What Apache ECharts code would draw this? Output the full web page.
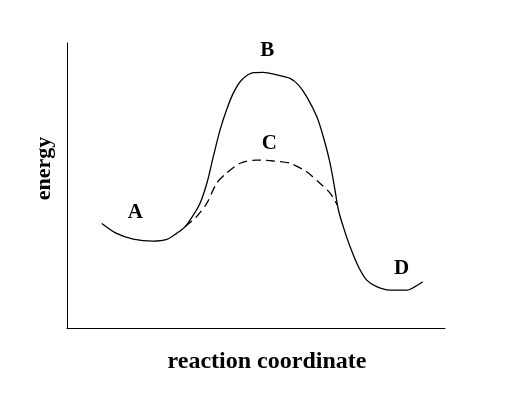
<!DOCTYPE html>
<html><head><meta charset="utf-8">
<script src="https://cdn.jsdelivr.net/npm/echarts@6/dist/echarts.min.js"></script>
<style>html,body{margin:0;padding:0;background:#fff}#c{width:509px;height:394px}</style>
</head><body><div id="c"></div>
<script>
// Solid (uncatalysed) energy profile
const solidX = [9.2,13.1,17.5,22.8,26.4,29.0,31.2,33.4,35.2,37.0,38.7,40.5,42.2,44.0,46.2,49.3,51.9,55.5,59.0,61.2,63.4,66.1,67.8,69.6,70.9,71.8,73.1,74.9,77.1,79.3,81.9,85.4,89.9,92.1,94.1];
const solidY = [36.7,33.2,31.2,30.5,31.1,33.2,35.5,39.6,43.8,50.8,60.1,69.5,76.5,82.4,87.0,89.6,89.7,88.8,87.6,85.3,81.2,74.1,67.1,57.8,48.4,41.4,35.5,28.5,21.5,16.8,14.5,13.3,13.3,14.5,16.2];
// Dashed (catalysed) energy profile
const dashX = [31.2,34.3,37.0,39.6,42.2,45.8,50.2,54.6,59.0,63.4,66.9,69.6,71.5];
const dashY = [35.5,39.1,43.8,50.8,54.3,57.8,58.9,58.6,57.8,54.8,50.8,47.3,43.2];
// Point labels
const labelNames = ['A','B','C','D'];
const labelX = [18.1,53.0,53.5,88.5];
const labelY = [40.5,97.2,64.8,20.9];
const xTitle = 'reaction coordinate';
const yTitle = 'energy';

const zip = (xs, ys) => xs.map((x, i) => [x, ys[i]]);
const font = 'Liberation Serif, Times New Roman, serif';
const chart = echarts.init(document.getElementById('c'), null, {renderer: 'canvas'});
chart.setOption({
  animation: false,
  backgroundColor: '#fff',
  grid: {left: 67, right: 64, top: 43, bottom: 66, containLabel: false},
  xAxis: {
    type: 'value', min: 0, max: 100,
    name: xTitle, nameLocation: 'middle', nameGap: 22,
    nameTextStyle: {fontFamily: font, fontWeight: 'bold', fontSize: 24, color: '#000', padding: [0, 0, 0, 22]},
    axisLine: {show: true, lineStyle: {color: '#000', width: 1}},
    axisTick: {show: false}, axisLabel: {show: false}, splitLine: {show: false}
  },
  yAxis: {
    type: 'value', min: 0, max: 100,
    name: yTitle, nameLocation: 'middle', nameGap: 12, nameRotate: 90,
    nameTextStyle: {fontFamily: font, fontWeight: 'bold', fontSize: 22, color: '#000', padding: [0, 0, 0, 34]},
    axisLine: {show: true, lineStyle: {color: '#000', width: 1}},
    axisTick: {show: false}, axisLabel: {show: false}, splitLine: {show: false}
  },
  series: [
    {type: 'line', data: zip(solidX, solidY), smooth: 0.3, showSymbol: false,
     lineStyle: {color: '#000', width: 1.3}},
    {type: 'line', data: zip(dashX, dashY), smooth: 0.3, showSymbol: false,
     lineStyle: {color: '#000', width: 1.3, type: [9, 5]}},
    {type: 'scatter', data: zip(labelX, labelY).map((p, i) => ({value: p, name: labelNames[i]})),
     symbolSize: 1, itemStyle: {opacity: 0}, silent: true,
     label: {show: true, position: 'inside', formatter: p => p.name,
       fontFamily: font, fontWeight: 'bold', fontSize: 21, color: '#000',
       textBorderWidth: 0, opacity: 1}}
  ]
});
</script></body></html>
